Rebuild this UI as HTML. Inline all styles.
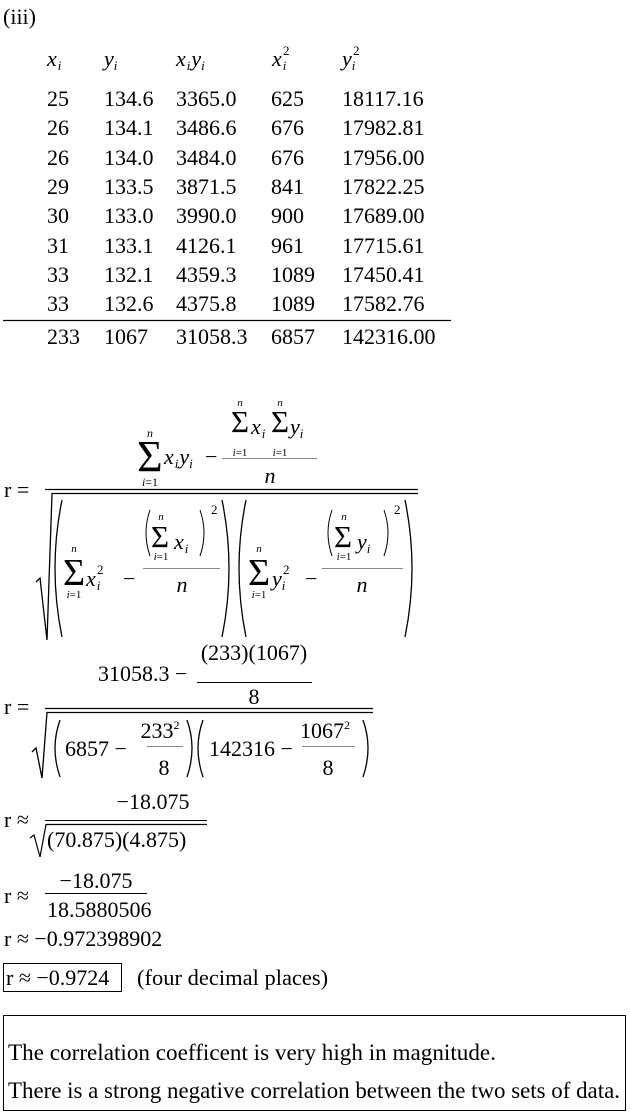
<!DOCTYPE html>
<html><head><meta charset="utf-8"><style>
html,body{margin:0;padding:0;background:#fff;}
svg{display:block;font-family:"Liberation Serif",serif;}
text{fill:#000;}
.i{font-style:italic;}
</style></head><body>
<svg width="630" height="1113" viewBox="0 0 630 1113" xmlns="http://www.w3.org/2000/svg">
<g font-size="22">
<text x="3" y="24">(iii)</text>
<text x="47" y="66" class="i">x<tspan font-size="13" dy="4" dx="1">i</tspan></text>
<text x="104" y="66" class="i">y<tspan font-size="13" dy="4">i</tspan></text>
<text x="176" y="66" class="i">x<tspan font-size="13" dy="4" dx="1">i</tspan><tspan dy="-4" dx="1">y</tspan><tspan font-size="13" dy="4">i</tspan></text>
<text x="272" y="66" class="i">x<tspan font-size="13" dy="4" dx="1">i</tspan></text>
<text x="283" y="55" font-size="13">2</text>
<text x="342" y="66" class="i">y<tspan font-size="13" dy="4">i</tspan></text>
<text x="353" y="55" font-size="13">2</text>
</g>
<g font-size="22">
<text y="106"><tspan x="47">25</tspan><tspan x="104">134.6</tspan><tspan x="176">3365.0</tspan><tspan x="271">625</tspan><tspan x="342">18117.16</tspan></text>
<text y="135"><tspan x="47">26</tspan><tspan x="104">134.1</tspan><tspan x="176">3486.6</tspan><tspan x="271">676</tspan><tspan x="342">17982.81</tspan></text>
<text y="165"><tspan x="47">26</tspan><tspan x="104">134.0</tspan><tspan x="176">3484.0</tspan><tspan x="271">676</tspan><tspan x="342">17956.00</tspan></text>
<text y="194"><tspan x="47">29</tspan><tspan x="104">133.5</tspan><tspan x="176">3871.5</tspan><tspan x="271">841</tspan><tspan x="342">17822.25</tspan></text>
<text y="223"><tspan x="47">30</tspan><tspan x="104">133.0</tspan><tspan x="176">3990.0</tspan><tspan x="271">900</tspan><tspan x="342">17689.00</tspan></text>
<text y="253"><tspan x="47">31</tspan><tspan x="104">133.1</tspan><tspan x="176">4126.1</tspan><tspan x="271">961</tspan><tspan x="342">17715.61</tspan></text>
<text y="282"><tspan x="47">33</tspan><tspan x="104">132.1</tspan><tspan x="176">4359.3</tspan><tspan x="271">1089</tspan><tspan x="342">17450.41</tspan></text>
<text y="311"><tspan x="47">33</tspan><tspan x="104">132.6</tspan><tspan x="176">4375.8</tspan><tspan x="271">1089</tspan><tspan x="342">17582.76</tspan></text>
<text y="344"><tspan x="47">233</tspan><tspan x="104">1067</tspan><tspan x="176">31058.3</tspan><tspan x="271">6857</tspan><tspan x="342">142316.00</tspan></text>
</g>
<line x1="3" y1="320.5" x2="451" y2="320.5" stroke="#000" stroke-width="1.2"/>

<g font-size="22">
<text x="4" y="497">r =</text>
<line x1="45" y1="489.5" x2="418" y2="489.5" stroke="#000" stroke-width="1.2"/>
<text x="137" y="471" font-size="44">Σ</text>
<text x="150" y="437" font-size="12" class="i" text-anchor="middle">n</text>
<text x="150" y="486" font-size="12" text-anchor="middle"><tspan class="i">i</tspan>=1</text>
<text x="164" y="464" class="i">x<tspan font-size="13" dy="4" dx="1">i</tspan><tspan dy="-4" dx="1">y</tspan><tspan font-size="13" dy="4">i</tspan></text>
<text x="205" y="464">−</text>
<text x="231" y="432" font-size="31">Σ</text>
<text x="240" y="406" font-size="11" class="i" text-anchor="middle">n</text>
<text x="240" y="456" font-size="11" text-anchor="middle"><tspan class="i">i</tspan>=1</text>
<text x="251" y="434" class="i">x<tspan font-size="13" dy="4" dx="1">i</tspan></text>
<text x="271" y="432" font-size="31">Σ</text>
<text x="280" y="406" font-size="11" class="i" text-anchor="middle">n</text>
<text x="280" y="456" font-size="11" text-anchor="middle"><tspan class="i">i</tspan>=1</text>
<text x="290" y="434" class="i">y<tspan font-size="13" dy="4">i</tspan></text>
<line x1="222" y1="458.5" x2="317" y2="458.5" stroke="#888" stroke-width="1"/>
<text x="270" y="483" class="i" text-anchor="middle">n</text>
<path d="M36,582 L40,578 L47,640 L52,493.5 L418,493.5" fill="none" stroke="#000" stroke-width="1.3"/>
<path d="M62,500 Q48,568 62,637" fill="none" stroke="#000" stroke-width="1.3"/>
<path d="M222,500 Q236,568 222,637" fill="none" stroke="#000" stroke-width="1.3"/>
<path d="M246,500 Q232,568 246,637" fill="none" stroke="#000" stroke-width="1.3"/>
<path d="M405,500 Q419,568 405,637" fill="none" stroke="#000" stroke-width="1.3"/>
<text x="63" y="585" font-size="38">Σ</text>
<text x="74" y="552" font-size="11" class="i" text-anchor="middle">n</text>
<text x="74" y="598" font-size="11" text-anchor="middle"><tspan class="i">i</tspan>=1</text>
<text x="86" y="586" class="i">x<tspan font-size="13" dy="4" dx="1">i</tspan></text>
<text x="97" y="574" font-size="13">2</text>
<text x="123" y="586">−</text>
<path d="M150,510 Q142,533 150,556" fill="none" stroke="#000" stroke-width="1"/>
<path d="M200,510 Q208,533 200,556" fill="none" stroke="#000" stroke-width="1"/>
<text x="151" y="547" font-size="31">Σ</text>
<text x="161" y="520" font-size="11" class="i" text-anchor="middle">n</text>
<text x="161" y="560" font-size="11" text-anchor="middle"><tspan class="i">i</tspan>=1</text>
<text x="174" y="549" class="i">x<tspan font-size="13" dy="4" dx="1">i</tspan></text>
<text x="211" y="514" font-size="13">2</text>
<line x1="143" y1="568.5" x2="220" y2="568.5" stroke="#888" stroke-width="1"/>
<text x="182" y="592" class="i" text-anchor="middle">n</text>
<text x="248" y="585" font-size="38">Σ</text>
<text x="259" y="552" font-size="11" class="i" text-anchor="middle">n</text>
<text x="259" y="598" font-size="11" text-anchor="middle"><tspan class="i">i</tspan>=1</text>
<text x="272" y="586" class="i">y<tspan font-size="13" dy="4">i</tspan></text>
<text x="283" y="574" font-size="13">2</text>
<text x="305" y="586">−</text>
<path d="M332,510 Q324,533 332,556" fill="none" stroke="#000" stroke-width="1"/>
<path d="M384,510 Q392,533 384,556" fill="none" stroke="#000" stroke-width="1"/>
<text x="334" y="547" font-size="31">Σ</text>
<text x="344" y="520" font-size="11" class="i" text-anchor="middle">n</text>
<text x="344" y="560" font-size="11" text-anchor="middle"><tspan class="i">i</tspan>=1</text>
<text x="357" y="549" class="i">y<tspan font-size="13" dy="4">i</tspan></text>
<text x="394" y="514" font-size="13">2</text>
<line x1="322" y1="568.5" x2="403" y2="568.5" stroke="#888" stroke-width="1"/>
<text x="362" y="592" class="i" text-anchor="middle">n</text>
</g>

<g font-size="22">
<text x="4" y="714">r =</text>
<text x="98" y="681">31058.3 −</text>
<text x="254" y="660" text-anchor="middle">(233)(1067)</text>
<line x1="197" y1="682.5" x2="312" y2="682.5" stroke="#000" stroke-width="1"/>
<text x="254" y="704" text-anchor="middle">8</text>
<line x1="45" y1="708.5" x2="373" y2="708.5" stroke="#000" stroke-width="1.2"/>
<path d="M32,752 L36,748 L42,778 L47,712.5 L373,712.5" fill="none" stroke="#000" stroke-width="1.3"/>
<path d="M60,720 Q50,748 60,777" fill="none" stroke="#000" stroke-width="1.3"/>
<path d="M187,720 Q197,748 187,777" fill="none" stroke="#000" stroke-width="1.3"/>
<path d="M203,720 Q193,748 203,777" fill="none" stroke="#000" stroke-width="1.3"/>
<path d="M363,720 Q373,748 363,777" fill="none" stroke="#000" stroke-width="1.3"/>
<text x="65" y="756">6857 −</text>
<text x="160" y="738" text-anchor="middle">233<tspan font-size="12" dy="-9">2</tspan></text>
<line x1="147" y1="746.5" x2="183" y2="746.5" stroke="#888" stroke-width="1"/>
<text x="164" y="775" text-anchor="middle">8</text>
<text x="209" y="756">142316 −</text>
<text x="325" y="738" text-anchor="middle">1067<tspan font-size="12" dy="-9">2</tspan></text>
<line x1="302" y1="746.5" x2="355" y2="746.5" stroke="#888" stroke-width="1"/>
<text x="328" y="775" text-anchor="middle">8</text>
</g>

<g font-size="22">
<text x="4" y="827">r ≈</text>
<text x="153" y="809" text-anchor="middle">−18.075</text>
<line x1="45" y1="820.5" x2="207" y2="820.5" stroke="#000" stroke-width="1"/>
<path d="M30,838 L34,835 L40,857 L46,824.5 L207,824.5" fill="none" stroke="#000" stroke-width="1.2"/>
<text x="47" y="847">(70.875)(4.875)</text>

<text x="4" y="903">r ≈</text>
<text x="96" y="888" text-anchor="middle">−18.075</text>
<line x1="45" y1="893.5" x2="147" y2="893.5" stroke="#000" stroke-width="1"/>
<text x="47" y="917">18.5880506</text>

<text x="4" y="946">r ≈ −0.972398902</text>

<rect x="3.5" y="963.5" width="118" height="28" fill="none" stroke="#000" stroke-width="1"/>
<text x="6" y="985">r ≈ −0.9724</text>
<text x="137" y="985" font-size="22.5">(four decimal places)</text>
</g>
<g font-size="22.8">
<rect x="3.5" y="1015.5" width="622" height="95" fill="none" stroke="#000" stroke-width="1"/>
<text x="8" y="1060" textLength="488" lengthAdjust="spacingAndGlyphs">The correlation coefficent is very high in magnitude.</text>
<text x="8" y="1098" textLength="612" lengthAdjust="spacingAndGlyphs">There is a strong negative correlation between the two sets of data.</text>
</g>
</svg>
</body></html>
